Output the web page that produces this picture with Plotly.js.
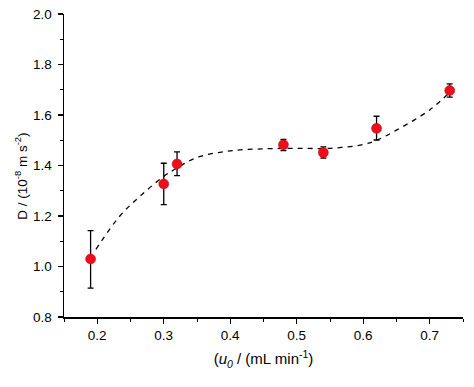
<!DOCTYPE html>
<html><head><meta charset="utf-8">
<script src="https://cdn.plot.ly/plotly-3.0.1.min.js"></script>
<style>html,body{margin:0;padding:0;background:#fff}#c{width:474px;height:387px}</style>
</head><body><div id="c"></div>
<script>
const flowRate = [0.19, 0.30, 0.32, 0.48, 0.54, 0.62, 0.73];
const diffusion = [1.03, 1.327, 1.406, 1.482, 1.451, 1.547, 1.697];
const errUp = [0.112, 0.082, 0.048, 0.021, 0.023, 0.048, 0.026];
const errDown = [0.116, 0.082, 0.046, 0.023, 0.022, 0.046, 0.026];
const fitX = [0.198, 0.234, 0.265, 0.30, 0.32, 0.35, 0.40, 0.45, 0.50, 0.55, 0.60, 0.62, 0.65, 0.70, 0.73];
const fitY = [1.068, 1.20, 1.28, 1.357, 1.39, 1.432, 1.458, 1.466, 1.468, 1.468, 1.483, 1.50, 1.54, 1.62, 1.69];
const xTicks = [0.2, 0.3, 0.4, 0.5, 0.6, 0.7];
const yTicks = [0.8, 1.0, 1.2, 1.4, 1.6, 1.8, 2.0];

const font = {family: 'Liberation Sans, Arial, sans-serif', size: 13.5, color: '#000'};
const titleFont = {family: 'Liberation Sans, Arial, sans-serif', size: 15, color: '#000'};
const yTitleFont = {family: 'Liberation Sans, Arial, sans-serif', size: 13.5, color: '#000'};
Plotly.newPlot('c', [
  {x: fitX, y: fitY, mode: 'lines', line: {color: '#000', width: 1.3, dash: '5px,5px', shape: 'spline'}, hoverinfo: 'skip'},
  {x: flowRate, y: diffusion, mode: 'markers',
   marker: {color: '#f00d1b', size: 10, line: {color: '#c00010', width: 0.5}},
   error_y: {type: 'data', symmetric: false, array: errUp, arrayminus: errDown, color: '#000', thickness: 1.3, width: 3}}
], {
  width: 474, height: 387, showlegend: false,
  margin: {l: 64, r: 11, t: 14, b: 70},
  paper_bgcolor: '#fff', plot_bgcolor: '#fff', font: font,
  xaxis: {range: [0.15, 0.75], tickvals: xTicks, ticktext: xTicks.map(v => v.toFixed(1)),
    showgrid: false, zeroline: false, showline: true, linecolor: '#000', linewidth: 1.5,
    ticks: 'outside', ticklen: 5, tickwidth: 1.3, tickcolor: '#000',
    minor: {dtick: 0.05, tick0: 0.15, ticks: 'outside', ticklen: 3, tickwidth: 1, tickcolor: '#000'},
    tickfont: font,
    title: {text: '(<i>u<sub>0</sub></i> / (mL min<sup>-1</sup>)', font: titleFont, standoff: 12}},
  yaxis: {range: [0.8, 2.0], tickvals: yTicks, ticktext: yTicks.map(v => v.toFixed(1)),
    showgrid: false, zeroline: false, showline: true, linecolor: '#000', linewidth: 1.5,
    ticks: 'outside', ticklen: 5, tickwidth: 1.3, tickcolor: '#000', ticklabelstandoff: 3,
    minor: {dtick: 0.1, tick0: 0.8, ticks: 'outside', ticklen: 3, tickwidth: 1, tickcolor: '#000'},
    tickfont: font},
  annotations: [{text: 'D / (10<sup>-8</sup> m s<sup>-2</sup>)', textangle: -90, font: yTitleFont,
    xref: 'paper', yref: 'paper', x: -0.108, y: 0.466, xanchor: 'center', yanchor: 'middle', showarrow: false}]
}, {staticPlot: true});
</script></body></html>
